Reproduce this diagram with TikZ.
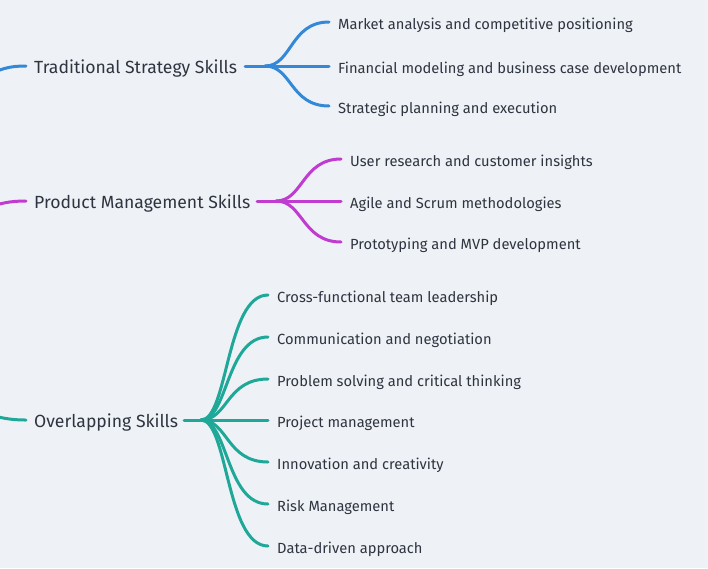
\documentclass[tikz,border=0pt]{standalone}
\usepackage{fontspec}
\setmainfont{Fira Sans}
\definecolor{bg}{HTML}{EEF2F6}
\definecolor{cblue}{HTML}{3388D8}
\definecolor{cmag}{HTML}{C03CD0}
\definecolor{cteal}{HTML}{1FA898}
\definecolor{ctxt}{HTML}{2E3440}
\tikzset{
  mainlbl/.style={anchor=base west,inner sep=0pt,text=ctxt,font=\fontsize{17.6}{21}\selectfont,yshift=-7.3pt},
  leaflbl/.style={anchor=base west,inner sep=0pt,text=ctxt,font=\fontsize{14.7}{18}\selectfont,yshift=-7.3pt},
  conn/.style={line width=3pt,line cap=round},
}
\begin{document}
\begin{tikzpicture}[x=1pt,y=-1pt]
\fill[bg] (0,0) rectangle (708,568);
\useasboundingbox (0,0) rectangle (708,568);

% ---------- Traditional Strategy Skills ----------
\coordinate (tin) at (-20,80);
\coordinate (tl) at (26,66);
\node[mainlbl] (tm) at (34,66) {Traditional Strategy Skills};
\coordinate (ts) at (245,66);
\coordinate (tb) at (265,66);
\draw[conn,cblue] (tin) .. controls (0,68) and (10,66) .. (tl);
\draw[conn,cblue] (ts) -- (tb);
\foreach \i/\y/\t in {1/22/Market analysis and competitive positioning,
                      2/66/Financial modeling and business case development,
                      3/106/Strategic planning and execution}{
  \node[leaflbl] (t\i) at (338,\y) {\t};
  \coordinate (te\i) at (329,\y);
  \draw[conn,cblue] (tb) .. controls (292,66) and (290,\y) .. (te\i);
}

% ---------- Product Management Skills ----------
\coordinate (pin) at (-20,210);
\coordinate (pl) at (26,201);
\node[mainlbl] (pm) at (34,201) {Product Management Skills};
\coordinate (ps) at (257,201);
\coordinate (pb) at (276,201);
\draw[conn,cmag] (pin) .. controls (0,203) and (10,201) .. (pl);
\draw[conn,cmag] (ps) -- (pb);
\foreach \i/\y/\t in {1/159/User research and customer insights,
                      2/201/Agile and Scrum methodologies,
                      3/242/Prototyping and MVP development}{
  \node[leaflbl] (p\i) at (350,\y) {\t};
  \coordinate (pe\i) at (341,\y);
  \draw[conn,cmag] (pb) .. controls (303,201) and (302,\y) .. (pe\i);
}

% ---------- Overlapping Skills ----------
\coordinate (oin) at (-20,412);
\coordinate (ol) at (26,420);
\node[mainlbl] (om) at (34,420) {Overlapping Skills};
\coordinate (os) at (184,420);
\coordinate (ob) at (201,420);
\draw[conn,cteal] (oin) .. controls (0,418) and (10,420) .. (ol);
\draw[conn,cteal] (os) -- (ob);
\foreach \i/\y/\t in {1/295/Cross-functional team leadership,
                      2/337/Communication and negotiation,
                      3/379/Problem solving and critical thinking,
                      4/420/Project management,
                      5/462/Innovation and creativity,
                      6/504/Risk Management,
                      7/546/Data-driven approach}{
  \node[leaflbl] (o\i) at (277,\y) {\t};
  \coordinate (oe\i) at (268,\y);
  \draw[conn,cteal] (ob) .. controls (228,420) and (226,\y) .. (oe\i);
}
\end{tikzpicture}
\end{document}
